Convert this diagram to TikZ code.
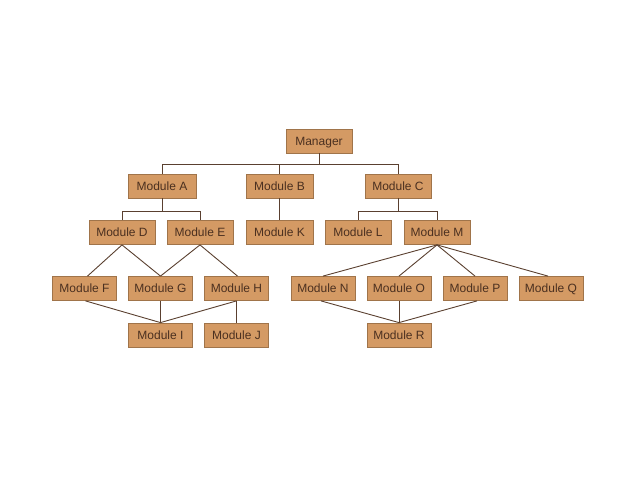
\documentclass[tikz,border=0pt]{standalone}
\usepackage{fontspec}
\setmainfont{Liberation Sans}
\definecolor{boxfill}{HTML}{D49A64}
\definecolor{boxdraw}{HTML}{A0744A}
\definecolor{boxtext}{HTML}{4B3020}
\definecolor{linkc}{HTML}{5A4030}
\begin{document}
\begin{tikzpicture}[x=1pt,y=-1pt,
  mod/.style={draw=boxdraw,fill=boxfill,text=boxtext,line width=0.8pt,
    minimum width=64pt,minimum height=24pt,inner sep=0pt,
    text height=8.6pt,text depth=0pt,
    font=\fontsize{12}{14}\selectfont},
  link/.style={draw=linkc,line width=0.9pt}]
\useasboundingbox (0,0) rectangle (638,478);
\node[mod,minimum width=66pt] (man) at (319,141) {Manager};
\node[mod,minimum width=68pt] (a) at (162,186) {Module A};
\node[mod,minimum width=67pt] (b) at (279.5,186) {Module B};
\node[mod,minimum width=66pt] (c) at (398,186) {Module C};
\node[mod,minimum width=66pt] (d) at (122,232.5) {Module D};
\node[mod,minimum width=66pt] (e) at (200,232.5) {Module E};
\node[mod,minimum width=67pt] (k) at (279.5,232.5) {Module K};
\node[mod,minimum width=66pt] (l) at (358,232.5) {Module L};
\node[mod,minimum width=66pt] (m) at (437,232.5) {Module M};
\node[mod] (f) at (84.5,288.5) {Module F};
\node[mod] (g) at (160.5,288.5) {Module G};
\node[mod] (h) at (236.5,288.5) {Module H};
\node[mod] (n) at (323,288.5) {Module N};
\node[mod] (o) at (399,288.5) {Module O};
\node[mod] (p) at (475,288.5) {Module P};
\node[mod] (q) at (551,288.5) {Module Q};
\node[mod] (i) at (160.5,335) {Module I};
\node[mod] (j) at (236.5,335) {Module J};
\node[mod] (r) at (399,335) {Module R};
% tree buses
\draw[link] (man.south) -- ++(0,11) -| (a.north);
\draw[link] (man.south) ++(0,11) -| (b.north);
\draw[link] (man.south) ++(0,11) -| (c.north);
\draw[link] (a.south) -- ++(0,13) -| (d.north);
\draw[link] (a.south) ++(0,13) -| (e.north);
\draw[link] (b.south) -- (k.north);
\draw[link] (c.south) -- ++(0,13) -| (l.north);
\draw[link] (c.south) ++(0,13) -| (m.north);
% straight links
\draw[link] (d.south) -- ([xshift=3pt]f.north);
\draw[link] (d.south) -- (g.north);
\draw[link] (e.south) -- (g.north);
\draw[link] (e.south) -- ([xshift=1pt]h.north);
\draw[link] ([xshift=1pt]f.south) -- (i.north);
\draw[link] (g.south) -- (i.north);
\draw[link] (h.south) -- (i.north);
\draw[link] (h.south) -- (j.north);
\draw[link] (m.south) -- (n.north);
\draw[link] (m.south) -- (o.north);
\draw[link] (m.south) -- (p.north);
\draw[link] (m.south) -- ([xshift=-3pt]q.north);
\draw[link] ([xshift=-2pt]n.south) -- (r.north);
\draw[link] (o.south) -- (r.north);
\draw[link] ([xshift=2pt]p.south) -- (r.north);
\end{tikzpicture}
\end{document}
